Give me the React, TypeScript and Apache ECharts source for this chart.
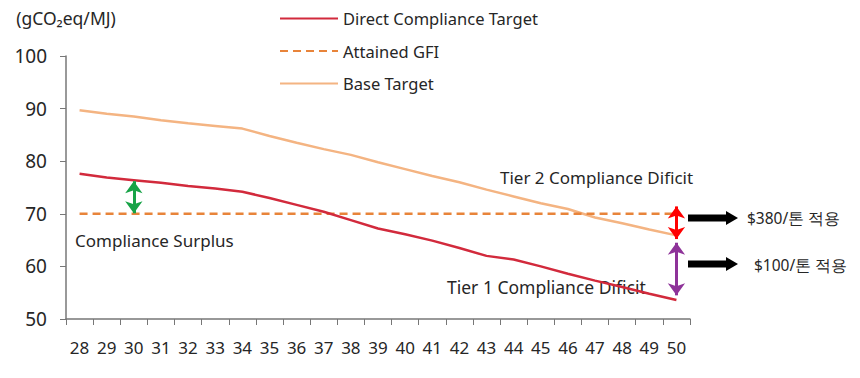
import React, { useEffect, useRef } from "react";
import * as echarts from "echarts";

const years = ["28","29","30","31","32","33","34","35","36","37","38","39","40","41","42","43","44","45","46","47","48","49","50"];
const directTarget = [77.6,76.9,76.4,75.9,75.3,74.8,74.2,73.0,71.7,70.4,68.8,67.2,66.1,64.9,63.5,62.0,61.3,60.0,58.6,57.3,56.1,54.8,53.6];
const attainedGFI = [70,70,70,70,70,70,70,70,70,70,70,70,70,70,70,70,70,70,70,70,70,70,70];
const baseTarget = [89.7,89.0,88.5,87.8,87.2,86.7,86.2,84.8,83.5,82.3,81.2,79.8,78.5,77.2,76.0,74.6,73.3,72.0,70.9,69.3,68.2,67.0,65.9];
const yTicks = { min: 50, max: 100, interval: 10 };

const FONT = "Noto Sans";

export default function App() {
  const ref = useRef<HTMLDivElement>(null);
  useEffect(() => {
    document.body.style.margin = "0";
    const chart = echarts.init(ref.current!, null, { renderer: "svg" });
    const arrowLine = (idx: number, y1: number, y2: number, color: string) => ({
      silent: true,
      symbol: ["arrow", "arrow"],
      symbolSize: [13, 12],
      label: { show: false },
      lineStyle: { color, width: 3, type: "solid" },
      data: [[{ coord: [idx, y1] }, { coord: [idx, y2] }]],
    });
    const txt = (x: number, y: number, text: string, size = 17) => ({
      type: "text",
      x,
      y,
      style: { text, fill: "#262626", font: `${size}px "${FONT}"`, textVerticalAlign: "middle" },
    });
    const blackArrow = (x: number, y: number) => ({
      type: "group",
      x,
      y,
      children: [
        { type: "rect", shape: { x: 0, y: -3.5, width: 40, height: 7 }, style: { fill: "#000" } },
        { type: "polygon", shape: { points: [[38, -7], [50, 0], [38, 7]] }, style: { fill: "#000" } },
      ],
    });
    chart.setOption({
      animation: false,
      textStyle: { fontFamily: FONT },
      grid: { left: 66, right: 170, top: 56, bottom: 59, containLabel: false },
      legend: {
        orient: "vertical",
        left: 274,
        top: 5,
        itemWidth: 58,
        itemHeight: 16,
        itemGap: 15.5,
        itemStyle: { opacity: 0 },
        textStyle: { fontSize: 16.5, color: "#262626", fontFamily: FONT },
        data: ["Direct Compliance Target", "Attained GFI", "Base Target"],
      },
      xAxis: {
        type: "category",
        data: years,
        boundaryGap: true,
        axisLine: { lineStyle: { color: "#777", width: 1.5 } },
        axisTick: { show: true, length: 6, lineStyle: { color: "#777" } },
        axisLabel: { fontSize: 17, color: "#262626", margin: 20, interval: 0 },
      },
      yAxis: {
        type: "value",
        min: yTicks.min,
        max: yTicks.max,
        interval: yTicks.interval,
        name: "(gCO₂eq/MJ)",
        nameLocation: "end",
        nameGap: 29,
        nameTextStyle: { fontSize: 17.5, color: "#262626", align: "center" },
        axisLine: { show: true, lineStyle: { color: "#777", width: 1.5 } },
        axisTick: { show: true, length: 6, lineStyle: { color: "#777" } },
        axisLabel: { fontSize: 19, color: "#262626", margin: 19 },
        splitLine: { show: false },
      },
      series: [
        {
          name: "Direct Compliance Target",
          type: "line",
          data: directTarget,
          symbol: "none",
          lineStyle: { color: "#d22a3c", width: 2.5 },
          itemStyle: { color: "#d22a3c" },
          z: 3,
          markLine: arrowLine(2, 76.2, 70.1, "#17a347"),
        },
        {
          name: "Attained GFI",
          type: "line",
          data: attainedGFI,
          symbol: "none",
          lineStyle: { color: "#e8843a", width: 2.5, type: [8, 5] },
          itemStyle: { color: "#e8843a" },
          z: 2,
          markLine: arrowLine(22, 71.4, 65.2, "#ff0000"),
        },
        {
          name: "Base Target",
          type: "line",
          data: baseTarget,
          symbol: "none",
          lineStyle: { color: "#f4b482", width: 2.5 },
          itemStyle: { color: "#f4b482" },
          z: 1,
          markLine: arrowLine(22, 64.5, 54.5, "#8e3399"),
        },
      ],
      graphic: [
        txt(75, 240, "Compliance Surplus"),
        txt(500, 177, "Tier 2 Compliance Dificit"),
        txt(447, 287, "Tier 1 Compliance Dificit", 17.5),
        blackArrow(688, 218),
        blackArrow(688, 264),
        txt(747, 218, "$380/톤 적용", 15.5),
        txt(754, 265, "$100/톤 적용", 15.5),
      ],
    });
    return () => chart.dispose();
  }, []);
  return <div ref={ref} style={{ width: 860, height: 378 }} />;
}
